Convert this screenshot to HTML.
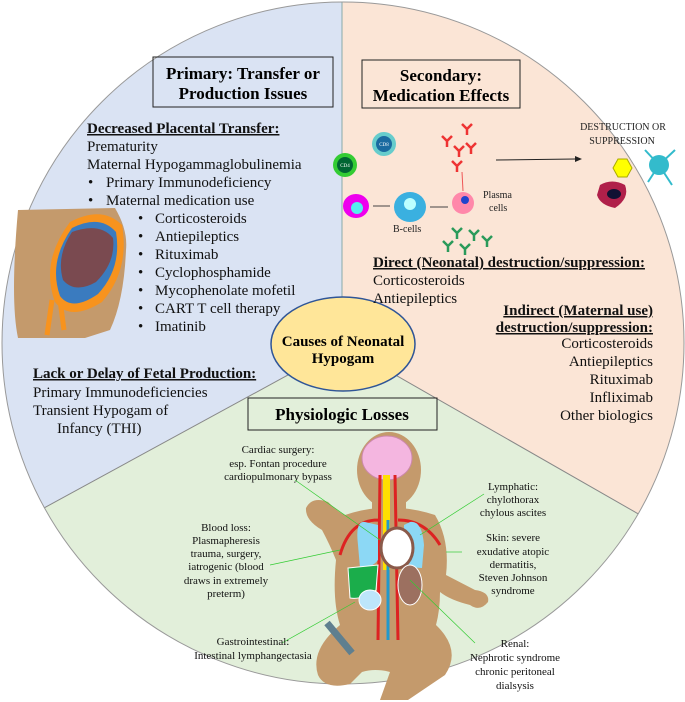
<!DOCTYPE html>
<html><head><meta charset="utf-8"><style>
html,body{margin:0;padding:0;background:#fff;width:685px;height:702px;overflow:hidden;}
svg{display:block;font-family:"Liberation Serif",serif;}
.t{font-size:15px;fill:#111;}
.b{font-size:15px;font-weight:bold;fill:#111;text-decoration:underline;}
.s{font-size:11px;fill:#111;}
</style></head><body>
<svg width="685" height="702" viewBox="0 0 685 702" xmlns="http://www.w3.org/2000/svg">
<defs><clipPath id="c"><circle cx="343" cy="343" r="341"/></clipPath></defs>
<g clip-path="url(#c)">
<rect x="0" y="0" width="685" height="702" fill="#dae3f3"/>
<polygon points="342,-10 342,345 1100,778 1100,-10" fill="#fbe5d6"/>
<polygon points="343,345 -400,750 -400,800 1100,800 1100,778" fill="#e2efda"/>
<line x1="342" y1="0" x2="342" y2="345" stroke="#8aa" stroke-width="1"/>
<line x1="343" y1="345" x2="-400" y2="750" stroke="#888" stroke-width="1"/>
<line x1="343" y1="345" x2="1100" y2="778" stroke="#888" stroke-width="1"/>
</g>
<circle cx="343" cy="343" r="341" fill="none" stroke="#999" stroke-width="1"/>

<!-- Primary -->
<rect x="153" y="57" width="180" height="50" fill="none" stroke="#222" stroke-width="1"/>
<text x="243" y="79" text-anchor="middle" font-size="17" font-weight="bold">Primary: Transfer or</text>
<text x="243" y="99" text-anchor="middle" font-size="17" font-weight="bold">Production Issues</text>
<text class="b" x="87" y="133">Decreased Placental Transfer:</text>
<text class="t" x="87" y="151">Prematurity</text>
<text class="t" x="87" y="169">Maternal Hypogammaglobulinemia</text>
<text class="t" x="88" y="187">•</text><text class="t" x="106" y="187">Primary Immunodeficiency</text>
<text class="t" x="88" y="205">•</text><text class="t" x="106" y="205">Maternal medication use</text>
<g class="t">
<text x="138" y="223">•</text><text x="155" y="223">Corticosteroids</text>
<text x="138" y="241">•</text><text x="155" y="241">Antiepileptics</text>
<text x="138" y="259">•</text><text x="155" y="259">Rituximab</text>
<text x="138" y="277">•</text><text x="155" y="277">Cyclophosphamide</text>
<text x="138" y="295">•</text><text x="155" y="295">Mycophenolate mofetil</text>
<text x="138" y="313">•</text><text x="155" y="313">CART T cell therapy</text>
<text x="138" y="331">•</text><text x="155" y="331">Imatinib</text>
</g>
<!-- fetus -->
<path d="M18,210 L115,208 Q128,230 126,250 Q124,300 110,330 L85,338 L18,338 Q10,300 18,210 Z" fill="#c49a6c"/>
<path d="M70,222 Q102,205 122,225 Q130,270 102,302 Q70,322 55,302 Q40,262 70,222 Z" fill="#f7931e"/>
<path d="M72,228 Q100,214 116,232 Q122,268 98,294 Q72,312 60,296 Q48,262 72,228 Z" fill="#3a7bbf"/>
<path d="M72,232 Q100,222 113,238 Q116,262 96,282 Q75,294 63,280 Q56,256 72,232 Z" fill="#7a4a50"/>
<path d="M52,300 L47,335 M60,300 L64,330" stroke="#f7931e" stroke-width="5"/>

<!-- ellipse -->
<ellipse cx="343" cy="344" rx="72" ry="47" fill="#ffe699" stroke="#2f5597" stroke-width="1.5"/>
<text x="343" y="346" text-anchor="middle" font-size="15" font-weight="bold">Causes of Neonatal</text>
<text x="343" y="363" text-anchor="middle" font-size="15" font-weight="bold">Hypogam</text>

<text class="b" x="33" y="378">Lack or Delay of Fetal Production:</text>
<text class="t" x="33" y="397">Primary Immunodeficiencies</text>
<text class="t" x="33" y="415">Transient Hypogam of</text>
<text class="t" x="57" y="433">Infancy (THI)</text>

<!-- Secondary -->
<rect x="362" y="60" width="158" height="48" fill="none" stroke="#222" stroke-width="1"/>
<text x="441" y="81" text-anchor="middle" font-size="17" font-weight="bold">Secondary:</text>
<text x="441" y="101" text-anchor="middle" font-size="17" font-weight="bold">Medication Effects</text>
<!-- cells -->
<circle cx="345" cy="165" r="12" fill="#3c3" /><circle cx="345" cy="165" r="8" fill="#063"/>
<text x="345" y="167" font-size="5" text-anchor="middle" fill="#fff">CD4</text>
<circle cx="384" cy="144" r="12" fill="#6cc"/><circle cx="384" cy="144" r="8" fill="#1a6aa0"/>
<text x="384" y="146" font-size="5" text-anchor="middle" fill="#fff">CD8</text>
<ellipse cx="356" cy="206" rx="13" ry="12" fill="#e0e"/><circle cx="357" cy="208" r="6" fill="#5ee"/>
<line x1="373" y1="206" x2="390" y2="206" stroke="#444"/>
<ellipse cx="410" cy="207" rx="16" ry="15" fill="#3ab0e0"/><circle cx="410" cy="204" r="6" fill="#bff"/>
<text x="393" y="232" font-size="10" fill="#222">B-cells</text>
<line x1="430" y1="207" x2="448" y2="207" stroke="#444"/>
<circle cx="463" cy="203" r="11" fill="#f8a"/><circle cx="465" cy="200" r="4" fill="#24c"/>
<line x1="463" y1="191" x2="462" y2="172" stroke="#e55"/>
<text x="483" y="198" font-size="10" fill="#222">Plasma</text>
<text x="489" y="211" font-size="10" fill="#222">cells</text>
<g stroke="#e33" stroke-width="2.5" fill="none">
<path d="M462,124 l5,5 l5,-5 M467,129 v6"/><path d="M442,136 l5,5 l5,-5 M447,141 v6"/>
<path d="M454,146 l5,5 l5,-5 M459,151 v6"/><path d="M466,143 l5,5 l5,-5 M471,148 v6"/>
<path d="M452,161 l5,5 l5,-5 M457,166 v6"/>
</g>
<g stroke="#2a9a5a" stroke-width="2.5" fill="none">
<path d="M452,228 l5,5 l5,-5 M457,233 v6"/><path d="M469,230 l5,5 l5,-5 M474,235 v6"/>
<path d="M482,236 l5,5 l5,-5 M487,241 v6"/><path d="M443,241 l5,5 l5,-5 M448,246 v6"/>
<path d="M460,244 l5,5 l5,-5 M465,249 v6"/>
</g>
<line x1="496" y1="160" x2="575" y2="159" stroke="#222"/><polygon points="575,156 582,159 575,162" fill="#222"/>
<text x="623" y="130" font-size="10" text-anchor="middle" fill="#222">DESTRUCTION OR</text>
<text x="622" y="144" font-size="10" text-anchor="middle" fill="#222">SUPPRESSION</text>
<polygon points="618,159 627,159 632,168 627,177 618,177 613,168" fill="#ff0" stroke="#aa0"/>
<circle cx="659" cy="165" r="10" fill="#3bc"/><g stroke="#3bc" stroke-width="2"><line x1="659" y1="165" x2="645" y2="150"/><line x1="659" y1="165" x2="675" y2="150"/><line x1="659" y1="165" x2="648" y2="182"/><line x1="659" y1="165" x2="672" y2="185"/></g>
<path d="M600,185 Q612,178 625,185 Q630,198 615,208 Q600,205 597,195 Z" fill="#b0204a"/><ellipse cx="614" cy="194" rx="7" ry="5" fill="#113"/>

<text class="b" x="373" y="267">Direct (Neonatal) destruction/suppression:</text>
<text class="t" x="373" y="285">Corticosteroids</text>
<text class="t" x="373" y="303">Antiepileptics</text>
<g text-anchor="end">
<text class="b" x="653" y="315">Indirect (Maternal use)</text>
<text class="b" x="653" y="332">destruction/suppression:</text>
<text class="t" x="653" y="348">Corticosteroids</text>
<text class="t" x="653" y="366">Antiepileptics</text>
<text class="t" x="653" y="384">Rituximab</text>
<text class="t" x="653" y="402">Infliximab</text>
<text class="t" x="653" y="420">Other biologics</text>
</g>

<!-- Physiologic -->
<rect x="248" y="398" width="189" height="32" fill="none" stroke="#222" stroke-width="1"/>
<text x="342" y="420" text-anchor="middle" font-size="17" font-weight="bold">Physiologic Losses</text>
<!-- baby -->
<g fill="#c49a6c">
<ellipse cx="389" cy="470" rx="32" ry="38"/>
<rect x="372" y="495" width="34" height="25"/>
<path d="M345,515 Q389,500 435,515 Q450,540 446,575 L475,590 Q490,592 488,602 Q480,612 470,605 Q450,600 440,592 Q440,610 436,625 Q462,650 445,675 L408,700 L380,700 L390,672 Q375,668 362,672 L350,684 Q325,690 318,675 Q310,650 340,625 Q332,600 336,560 Q330,545 322,530 Q305,520 306,508 Q312,496 328,502 Q338,512 345,515 Z"/>
</g>
<ellipse cx="387" cy="458" rx="25" ry="22" fill="#f4b6e0" stroke="#c8a"/>
<rect x="383" y="475" width="7" height="95" fill="#ffdf00"/>
<path d="M380,475 L378,640 M395,475 L398,640 M378,520 Q350,520 340,555 M398,520 Q425,520 440,545" stroke="#d22" stroke-width="3" fill="none"/>
<path d="M388,520 L388,640" stroke="#29c" stroke-width="3"/>
<path d="M365,522 Q355,520 358,545 L360,568 Q372,568 378,560 L378,525 Z" fill="#8cd8f5"/>
<path d="M410,522 Q422,520 424,545 L422,568 Q410,568 404,560 L404,525 Z" fill="#8cd8f5"/>
<ellipse cx="397" cy="548" rx="16" ry="20" fill="#fff" stroke="#8a5a4a" stroke-width="3"/>
<path d="M348,568 L378,565 L376,590 Q362,600 350,598 Z" fill="#1bad4b" stroke="#fff"/>
<ellipse cx="410" cy="585" rx="12" ry="20" fill="#9c7060" stroke="#fff"/>
<ellipse cx="370" cy="600" rx="11" ry="10" fill="#bde6fa" stroke="#fff"/>
<path d="M327,623 L352,653" stroke="#5f7f8f" stroke-width="7"/>

<!-- connectors -->
<g stroke="#3c3" stroke-width="0.7" fill="none">
<line x1="295" y1="480" x2="380" y2="540"/>
<line x1="270" y1="565" x2="340" y2="550"/>
<line x1="282" y1="643" x2="355" y2="602"/>
<line x1="484" y1="494" x2="420" y2="535"/>
<line x1="462" y1="552" x2="446" y2="552"/>
<line x1="475" y1="643" x2="410" y2="580"/>
</g>
<g class="s" text-anchor="middle">
<text x="278" y="453">Cardiac surgery:</text>
<text x="278" y="467">esp. Fontan procedure</text>
<text x="278" y="480">cardiopulmonary bypass</text>
<text x="226" y="531">Blood loss:</text>
<text x="226" y="544">Plasmapheresis</text>
<text x="226" y="557">trauma, surgery,</text>
<text x="226" y="570">iatrogenic (blood</text>
<text x="226" y="584">draws in extremely</text>
<text x="226" y="597">preterm)</text>
<text x="253" y="645">Gastrointestinal:</text>
<text x="253" y="659">Intestinal lymphangectasia</text>
<text x="513" y="490">Lymphatic:</text>
<text x="513" y="503">chylothorax</text>
<text x="513" y="516">chylous ascites</text>
<text x="513" y="541">Skin: severe</text>
<text x="513" y="555">exudative atopic</text>
<text x="513" y="568">dermatitis,</text>
<text x="513" y="581">Steven Johnson</text>
<text x="513" y="594">syndrome</text>
<text x="515" y="647">Renal:</text>
<text x="515" y="661">Nephrotic syndrome</text>
<text x="515" y="675">chronic peritoneal</text>
<text x="515" y="689">dialsysis</text>
</g>
</svg>
</body></html>
